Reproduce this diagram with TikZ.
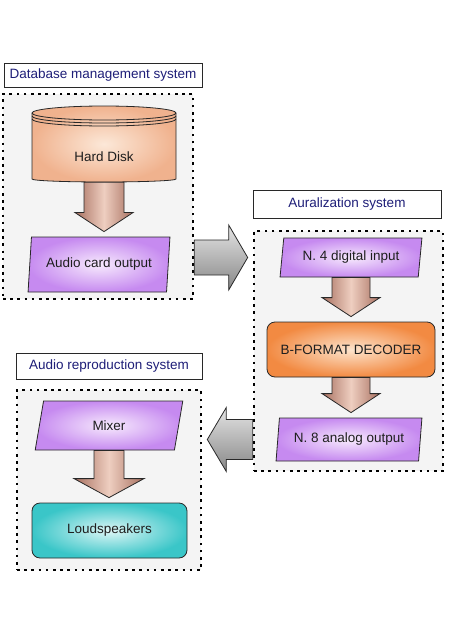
\documentclass[tikz,border=0pt]{standalone}
\usepackage{fontspec}
\setmainfont{Liberation Sans}
\usepackage{tikz}
\usetikzlibrary{calc,shapes.geometric}

\definecolor{navytext}{RGB}{30,30,120}
\definecolor{inktext}{RGB}{30,30,30}
\definecolor{edge}{RGB}{40,40,40}
\definecolor{boxbg}{RGB}{244,244,244}
\definecolor{peach}{RGB}{240,178,142}
\definecolor{peachlight}{RGB}{252,232,216}
\definecolor{lilac}{RGB}{198,138,240}
\definecolor{lilaclight}{RGB}{247,234,253}
\definecolor{tangerine}{RGB}{242,138,66}
\definecolor{tangerinelight}{RGB}{253,228,205}
\definecolor{aqua}{RGB}{58,198,200}
\definecolor{aqualight}{RGB}{222,246,246}
\definecolor{clay}{RGB}{168,112,96}
\definecolor{claylight}{RGB}{238,206,192}
\definecolor{steel}{RGB}{135,135,135}
\definecolor{steellight}{RGB}{228,228,228}

\tikzset{
  sysbox/.style={draw=black, line width=2.6pt, dash pattern=on 2.6pt off 4.6pt, fill=boxbg, inner sep=0pt},
  systitle/.style={draw=edge, line width=0.8pt, fill=white, text=navytext, inner sep=0pt},
  io/.style={trapezium, trapezium left angle=78, trapezium right angle=102, trapezium stretches=true,
    draw=edge, line width=0.8pt, inner color=lilaclight, outer color=lilac, text=inktext, inner sep=0pt},
  unit/.style={rectangle, rounded corners=8pt, draw=edge, line width=0.8pt, text=inktext, inner sep=0pt},
  diskbody/.style={draw=edge, line width=0.8pt, inner color=peachlight, outer color=peach},
  brownarr/.style={draw=edge, line width=0.8pt, left color=clay, right color=clay, middle color=claylight},
  grayarr/.style={draw=edge, line width=0.8pt, top color=steellight, bottom color=steel},
}

% block arrow: style, tail, target, half shaft, half head
\newcommand\blockarrow[5]{%
  \coordinate (tip) at ($(#3)!5pt!(#2)$);
  \coordinate (neck) at ($(tip)!19pt!(#2)$);
  \draw[#1] ($(#2)!#4!90:(tip)$) -- ($(neck)!#4!-90:(#2)$) -- ($(neck)!#5!-90:(#2)$) -- (tip)
    -- ($(neck)!#5!90:(#2)$) -- ($(neck)!#4!90:(#2)$) -- ($(#2)!#4!-90:(tip)$) -- cycle;}

\begin{document}
\begin{tikzpicture}[x=1pt,y=-1pt,font=\fontsize{13.5}{16}\selectfont]
\useasboundingbox (0,0) rectangle (474,640);

% dotted frames
\node[sysbox, minimum width=190pt, minimum height=205pt] (dbbox) at (98,196.5) {};
\node[sysbox, minimum width=189pt, minimum height=240pt] (aurbox) at (348.5,351) {};
\node[sysbox, minimum width=184pt, minimum height=180pt] (repbox) at (109,480) {};

% titles
\node[systitle, minimum width=198pt, minimum height=24pt] (dbtitle) at (103,75) {Database management system};
\node[systitle, minimum width=188pt, minimum height=28pt] (aurtitle) at (347,204) {Auralization system};
\node[systitle, minimum width=186pt, minimum height=26pt] (reptitle) at (109,366) {Audio reproduction system};

% hard disk
\draw[diskbody] (32,113) -- ++(0,66)
  arc[start angle=180, end angle=360, x radius=72pt, y radius=3pt] -- ++(0,-66)
  arc[start angle=0, end angle=180, x radius=72pt, y radius=7pt] -- cycle;
\draw[edge, line width=0.8pt] (32,113) arc[start angle=180, end angle=360, x radius=72pt, y radius=7pt];
\draw[edge, line width=0.8pt] (32,116) arc[start angle=180, end angle=360, x radius=72pt, y radius=7pt];
\draw[edge, line width=0.8pt] (32,119) arc[start angle=180, end angle=360, x radius=72pt, y radius=7pt];
\node[minimum width=144pt, minimum height=76pt, inner sep=0pt, text height=34pt, text depth=0pt, text=inktext] (disk) at (104,144) {Hard Disk};

% blocks
\node[io, minimum width=142pt, minimum height=55pt] (audio) at (99,264.5) {Audio card output};
\node[io, minimum width=142pt, minimum height=39pt] (n4in) at (351,257.5) {N. 4 digital input};
\node[unit, inner color=tangerinelight, outer color=tangerine, minimum width=168pt, minimum height=55pt] (decoder) at (351,349.5) {B-FORMAT DECODER};
\node[io, minimum width=146pt, minimum height=43pt] (n8out) at (349,439.5) {N. 8 analog output};
\node[io, minimum width=148pt, minimum height=49pt] (mixer) at (109,425.5) {Mixer};
\node[unit, inner color=aqualight, outer color=aqua, minimum width=155pt, minimum height=55pt] (loud) at (109.5,530.5) {Loudspeakers};

% arrows
\blockarrow{brownarr}{disk.south}{disk.south |- audio.north}{20pt}{29pt}
\blockarrow{brownarr}{n4in.south}{n4in.south |- decoder.north}{19pt}{29pt}
\blockarrow{brownarr}{decoder.south}{decoder.south |- n8out.north}{19pt}{29pt}
\blockarrow{brownarr}{mixer.south}{mixer.south |- loud.north}{15pt}{35pt}
\blockarrow{grayarr}{dbbox.east |- n4in}{aurbox.west |- n4in}{17.5pt}{32.5pt}
\blockarrow{grayarr}{aurbox.west |- n8out}{repbox.east |- n8out}{20pt}{32pt}
\end{tikzpicture}
\end{document}
